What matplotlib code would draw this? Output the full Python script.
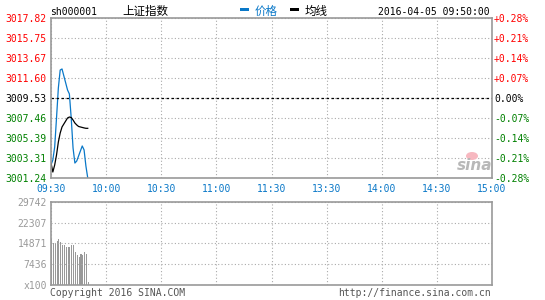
import matplotlib
matplotlib.use("Agg")
import matplotlib.pyplot as plt
from matplotlib.patches import Rectangle, Ellipse

plt.rcParams['font.family'] = ['DejaVu Sans Mono', 'Noto Sans CJK SC']

# 数据
minutos = list(range(21))
preco = [3002.62, 3003.14, 3004.48, 3007.49, 3010.60, 3012.46, 3012.57, 3011.84,
         3011.12, 3010.39, 3009.98, 3007.49, 3004.38, 3002.82, 3003.03, 3003.55,
         3004.07, 3004.59, 3004.18, 3002.51, 3001.27]
media = [3002.83, 3001.89, 3002.62, 3003.65, 3005.00, 3005.93, 3006.56, 3006.87,
         3007.18, 3007.49, 3007.59, 3007.54, 3007.28, 3006.97, 3006.77, 3006.61,
         3006.56, 3006.51, 3006.46, 3006.42, 3006.42]
volume = [16320, 14890, 14890, 15820, 16320, 15500, 14280, 14280, 13460, 13460,
          13670, 14170, 14280, 11670, 10710, 10100, 11070, 10710, 11670, 11000, 960]

fechamento = 3009.53
preco_ticks = [3001.24, 3003.31, 3005.39, 3007.46, 3009.53, 3011.60, 3013.67, 3015.75, 3017.82]
pct_labels = ["-0.28%", "-0.21%", "-0.14%", "-0.07%", "0.00%", "+0.07%", "+0.14%", "+0.21%", "+0.28%"]
tempo_ticks = [0, 30, 60, 90, 120, 150, 180, 210, 240]
tempo_labels = ["09:30", "10:00", "10:30", "11:00", "11:30", "13:30", "14:00", "14:30", "15:00"]
vol_ticks = [0, 7436, 14871, 22307, 29742]
vol_labels = ["x100", "7436", "14871", "22307", "29742"]

azul = '#0a78c8'
verde = '#008000'
vermelho = '#ff0000'
cinza = '#999999'
fs = 7
cjk = ['Noto Sans CJK SC', 'DejaVu Sans']

fig = plt.figure(figsize=(5.45, 3.0), dpi=100)
fig.patch.set_facecolor('white')

# Painel de preço
ax = fig.add_axes([51/545, 1-178.3/300, 441/545, 160/300])
ax.plot(minutos, preco, color=azul, lw=0.9)
ax.plot(minutos, media, color='black', lw=0.9)
ax.axhline(fechamento, color='black', lw=0.9, ls=(0, (2, 2)))
ax.set_xlim(0, 240)
ax.set_ylim(preco_ticks[0], preco_ticks[-1])
ax.set_yticks(preco_ticks)
ax.set_yticklabels([f"{v:.2f}" for v in preco_ticks])
for lbl, v in zip(ax.get_yticklabels(), preco_ticks):
    lbl.set_color(vermelho if v > fechamento + 0.001 else (verde if v < fechamento - 0.001 else 'black'))
ax.set_xticks(tempo_ticks)
ax.set_xticklabels(tempo_labels, color=azul)
ax.tick_params(axis='both', length=0, labelsize=fs)
ax.tick_params(axis='y', pad=3)
ax.tick_params(axis='x', pad=4)
ax.grid(True, color='#aaaaaa', lw=0.8, ls=(0, (1, 2)))
for s in ax.spines.values():
    s.set_color(cinza)
    s.set_linewidth(1.2)

ax2 = ax.twinx()
ax2.set_ylim(preco_ticks[0], preco_ticks[-1])
ax2.set_yticks(preco_ticks)
ax2.set_yticklabels(pct_labels)
for lbl, t in zip(ax2.get_yticklabels(), pct_labels):
    lbl.set_color(vermelho if t.startswith('+') else (verde if t.startswith('-') else 'black'))
ax2.tick_params(axis='y', length=0, labelsize=fs, pad=1.5)
for s in ax2.spines.values():
    s.set_visible(False)

# Painel de volume
axv = fig.add_axes([51/545, 15/300, 441/545, 83.3/300])
axv.bar(minutos, volume, width=0.6, align='edge', color=cinza, linewidth=0)
axv.set_xlim(0, 240)
axv.set_ylim(0, vol_ticks[-1])
axv.set_yticks(vol_ticks)
axv.set_yticklabels(vol_labels, color=cinza)
axv.set_xticks(tempo_ticks)
axv.set_xticklabels([])
axv.tick_params(axis='both', length=0, labelsize=fs)
axv.tick_params(axis='y', pad=3)
axv.grid(True, color='#aaaaaa', lw=0.8, ls=(0, (1, 2)))
for s in axv.spines.values():
    s.set_color(cinza)
    s.set_linewidth(1.2)

# Cabeçalho
yt = 1 - 12/300
fig.text(50/545, yt, "sh000001", fontsize=fs, va='center', ha='left')
fig.text(122/545, yt + 0.003, "上证指数", fontsize=8.3, va='center', ha='left', family=cjk)
fig.add_artist(Rectangle((240/545, 1 - 10.7/300), 9/545, 3/300, transform=fig.transFigure,
                         color=azul, lw=0))
fig.text(255/545, yt + 0.003, "价格", fontsize=8.3, va='center', ha='left', color=azul, family=cjk)
fig.add_artist(Rectangle((290/545, 1 - 10.7/300), 9/545, 3/300, transform=fig.transFigure,
                         color='black', lw=0))
fig.text(305/545, yt + 0.003, "均线", fontsize=8.3, va='center', ha='left', family=cjk)
fig.text(490/545, yt, "2016-04-05 09:50:00", fontsize=fs, va='center', ha='right')

# Marca d'água
fig.text(475/545, 1 - 166/300, "sina", fontsize=11, va='center', ha='center',
         color='#b8b8b8', style='italic', weight='bold', family=['DejaVu Sans'])
fig.add_artist(Ellipse((472/545, 1 - 156/300), 12/545, 8/300, transform=fig.transFigure,
                       color='#f7b8c0', lw=0))

# Rodapé
fig.text(50/545, 1 - 292.5/300, "Copyright 2016 SINA.COM", fontsize=fs, va='center',
         ha='left', color='#555555')
fig.text(491/545, 1 - 292.5/300, "http://finance.sina.com.cn", fontsize=fs, va='center',
         ha='right', color='#555555')

fig.savefig("out.png", dpi=100)
plt.close()
